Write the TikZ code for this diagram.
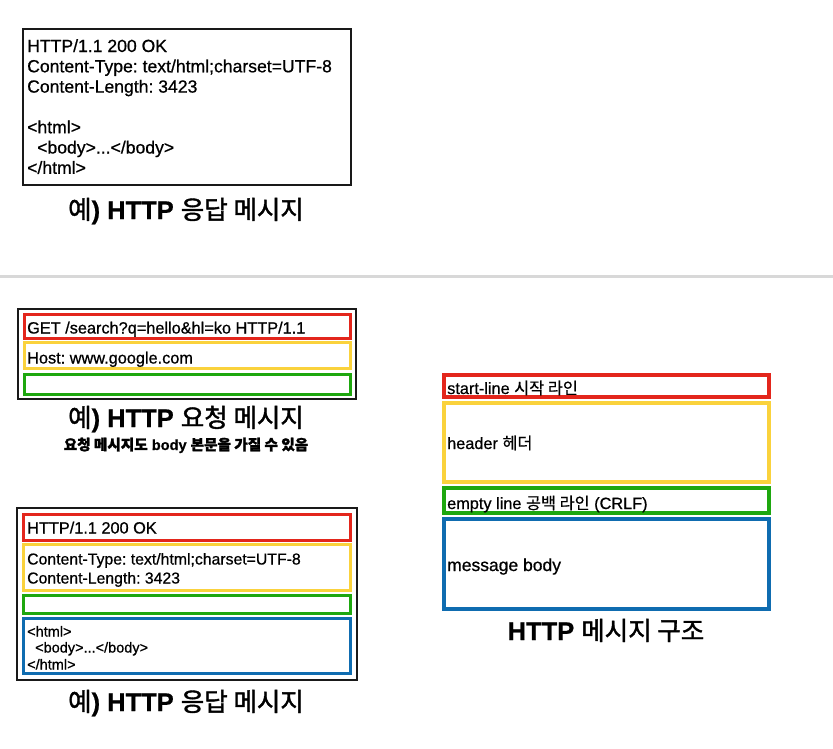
\documentclass[tikz,border=0pt]{standalone}
\usepackage{fontspec}
\setmainfont{Liberation Sans}[FakeBold=0.7]
\newfontfamily\kr{Noto Sans CJK KR}[FakeBold=0.5]
\newfontfamily\krc{Noto Sans CJK KR}[FakeBold=1.6]
\newcommand{\K}[1]{{\kr #1}}
\newcommand{\KC}[1]{{\krc #1}}
\frenchspacing
\definecolor{cred}{HTML}{E3261C}
\definecolor{cyel}{HTML}{FAD23C}
\definecolor{cgrn}{HTML}{1EA70F}
\definecolor{cblu}{HTML}{0F6CB0}
\definecolor{csep}{HTML}{D8D8D8}
\tikzset{
  blk/.style={draw=black!90, line width=2.2pt},
  rbox/.style={draw=cred, line width=3pt},
  ybox/.style={draw=cyel, line width=3pt},
  gbox/.style={draw=cgrn, line width=3pt},
  bbox/.style={draw=cblu, line width=3pt},
  txt/.style={anchor=base west, inner sep=0pt, font=\fontsize{16.3}{19}\selectfont},
  bigtxt/.style={anchor=base west, inner sep=0pt, font=\fontsize{17.6}{20}\selectfont},
  smalltxt/.style={anchor=base west, inner sep=0pt, font=\fontsize{14.5}{17}\selectfont},
  captxt/.style={anchor=base, inner sep=0pt, font=\fontsize{25.5}{30}\selectfont},
  subtxt/.style={anchor=base, inner sep=0pt, font=\fontsize{14.6}{17}\selectfont\bfseries},
}
\begin{document}
\begin{tikzpicture}[x=1pt,y=-1pt]
\useasboundingbox[fill=white] (0,0) rectangle (833,748);

% top response box
\draw[blk] (23,29) rectangle (351,185);
\node[bigtxt] (t1) at (27,52) {HTTP/1.1 200 OK};
\node[bigtxt] (t2) at (27,72.3) {Content-Type: text/html;charset=UTF-8};
\node[bigtxt] (t3) at (27,92.6) {Content-Length: 3423};
\node[bigtxt] (t4) at (27,133.2) {<html>};
\node[bigtxt] (t5) at (37,153.5) {<body>...</body>};
\node[bigtxt] (t6) at (27,173.8) {</html>};
\node[captxt] (c1) at (186,219) {\KC{예}\textbf{) HTTP} \KC{응답 메시지}};

% separator
\draw[csep, line width=3pt] (0,276) -- (833,276);

% request box
\draw[blk] (18,309) rectangle (356,399);
\draw[rbox] (24.5,314.5) rectangle (350.5,338.5);
\draw[ybox] (24.5,342.5) rectangle (350.5,368.5);
\draw[gbox] (24.5,374.5) rectangle (350.5,394.5);
\node[txt] (r1) at (27,333.5) {GET /search?q=hello\&hl=ko HTTP/1.1};
\node[txt] (r2) at (27,363.5) {Host: www.google.com};
\node[captxt] (c2) at (186,427) {\KC{예}\textbf{) HTTP} \KC{요청 메시지}};
\node[subtxt] (c3) at (186,450) {\KC{요청 메시지도} body \KC{본문을 가질 수 있음}};

% response box
\draw[blk] (17,508) rectangle (357,680);
\draw[rbox] (23.5,514.5) rectangle (350.5,540.5);
\draw[ybox] (23.5,544.5) rectangle (350.5,590.5);
\draw[gbox] (23.5,595.5) rectangle (350.5,613.5);
\draw[bbox] (23.5,618.5) rectangle (350.5,673.5);
\node[txt] (s1) at (27,533.5) {HTTP/1.1 200 OK};
\node[txt, font=\fontsize{15.8}{18}\selectfont] (s2) at (27,564.5) {Content-Type: text/html;charset=UTF-8};
\node[txt, font=\fontsize{15.8}{18}\selectfont] (s3) at (27,583.5) {Content-Length: 3423};
\node[smalltxt] (s4) at (27,636.5) {<html>};
\node[smalltxt] (s5) at (35,652.5) {<body>...</body>};
\node[smalltxt] (s6) at (27,669.5) {</html>};
\node[captxt] (c4) at (186,711) {\KC{예}\textbf{) HTTP} \KC{응답 메시지}};

% structure
\draw[draw=cred, line width=4pt] (444,375) rectangle (769,397);
\draw[draw=cyel, line width=4pt] (444,403) rectangle (769,482);
\draw[draw=cgrn, line width=4pt] (444,488) rectangle (769,513);
\draw[draw=cblu, line width=4pt] (444,519) rectangle (769,609);
\node[txt] (m1) at (447,394) {start-line \K{시작 라인}};
\node[txt] (m2) at (447,449) {header \K{헤더}};
\node[txt] (m3) at (447,509) {empty line \K{공백 라인} (CRLF)};
\node[txt, font=\fontsize{17.5}{20}\selectfont] (m4) at (447,571) {message body};
\node[captxt] (c5) at (606,640) {\textbf{HTTP} \KC{메시지 구조}};
\end{tikzpicture}
\end{document}
